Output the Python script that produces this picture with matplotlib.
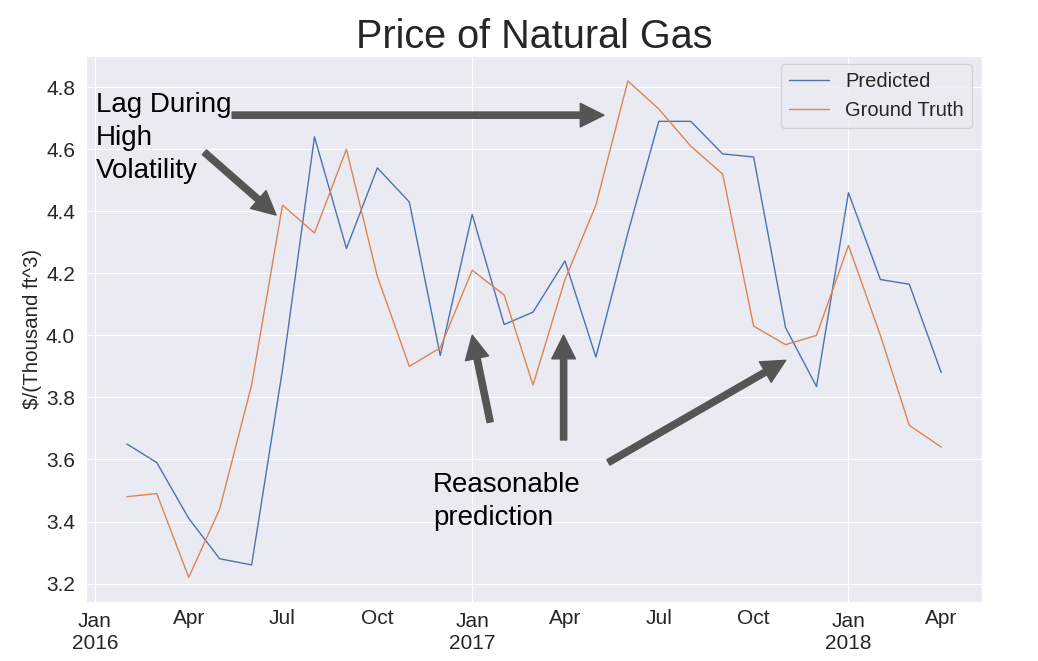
import matplotlib
matplotlib.use("Agg")
import matplotlib.pyplot as plt
import matplotlib.dates as mdates
import pandas as pd
import seaborn as sns

# monthly values, Feb 2016 .. Apr 2018
start_month = "2016-02-01"
predicted = [3.65, 3.59, 3.41, 3.28, 3.26, 3.89, 4.64, 4.28, 4.54, 4.43, 3.935,
             4.39, 4.035, 4.075, 4.24, 3.93, 4.33, 4.69, 4.69, 4.585, 4.575,
             4.025, 3.835, 4.46, 4.18, 4.165, 3.88]
ground_truth = [3.48, 3.49, 3.22, 3.44, 3.84, 4.42, 4.33, 4.60, 4.19, 3.90, 3.96,
                4.21, 4.13, 3.84, 4.18, 4.42, 4.82, 4.73, 4.61, 4.52, 4.03,
                3.97, 4.00, 4.29, 4.00, 3.71, 3.64]
months = pd.date_range(start_month, periods=len(predicted), freq="MS")

sns.set_style("darkgrid")
plt.rcParams["font.family"] = ["Liberation Sans", "DejaVu Sans"]

fig = plt.figure(figsize=(10.38, 6.61), dpi=100)
ax = fig.add_axes([0.083, 0.089, 0.863, 0.826])

ax.plot(months, predicted, color="#4C72B0", lw=1.0, label="Predicted")
ax.plot(months, ground_truth, color="#DD8452", lw=1.0, label="Ground Truth")

ax.xaxis.set_major_locator(mdates.YearLocator())
ax.xaxis.set_major_formatter(mdates.DateFormatter("%b\n%Y"))
ax.xaxis.set_minor_locator(mdates.MonthLocator(bymonth=[4, 7, 10]))
ax.xaxis.set_minor_formatter(mdates.DateFormatter("%b"))
ax.tick_params(axis="x", which="major", labelsize=15, pad=7, length=0)
ax.tick_params(axis="x", which="minor", labelsize=15, pad=5, length=0)
ax.tick_params(axis="y", labelsize=15, pad=8, length=0)

ax.set_title("Price of Natural Gas", fontsize=28.5, pad=6)
ax.set_ylabel("\\$/(Thousand ft^3)", fontsize=14.8, labelpad=3)

ax.legend(loc="upper right", fontsize=14.5, frameon=True,
          bbox_to_anchor=(1.0, 1.005))

arrow = dict(facecolor="#555555", edgecolor="#555555", width=4.5,
             headwidth=17, headlength=17, shrink=0)
ax.annotate("Lag During\nHigh\nVolatility", xy=(0.011, 0.934),
            xycoords="axes fraction", fontsize=20, va="top", ha="left",
            linespacing=1.35, color="black")
ax.annotate("", xy=(0.578, 0.892), xytext=(0.163, 0.892),
            xycoords="axes fraction", arrowprops=arrow)
ax.annotate("", xy=(0.212, 0.709), xytext=(0.132, 0.824),
            xycoords="axes fraction", arrowprops=arrow)

ax.annotate("Reasonable\nprediction", xy=(0.387, 0.2375),
            xycoords="axes fraction", fontsize=20, va="top", ha="left",
            linespacing=1.33, color="black")
ax.annotate("", xy=(0.431, 0.489), xytext=(0.451, 0.330),
            xycoords="axes fraction", arrowprops=arrow)
ax.annotate("", xy=(0.533, 0.489), xytext=(0.533, 0.297),
            xycoords="axes fraction", arrowprops=arrow)
ax.annotate("", xy=(0.781, 0.443), xytext=(0.583, 0.256),
            xycoords="axes fraction", arrowprops=arrow)

fig.savefig("out.png", dpi=100)
